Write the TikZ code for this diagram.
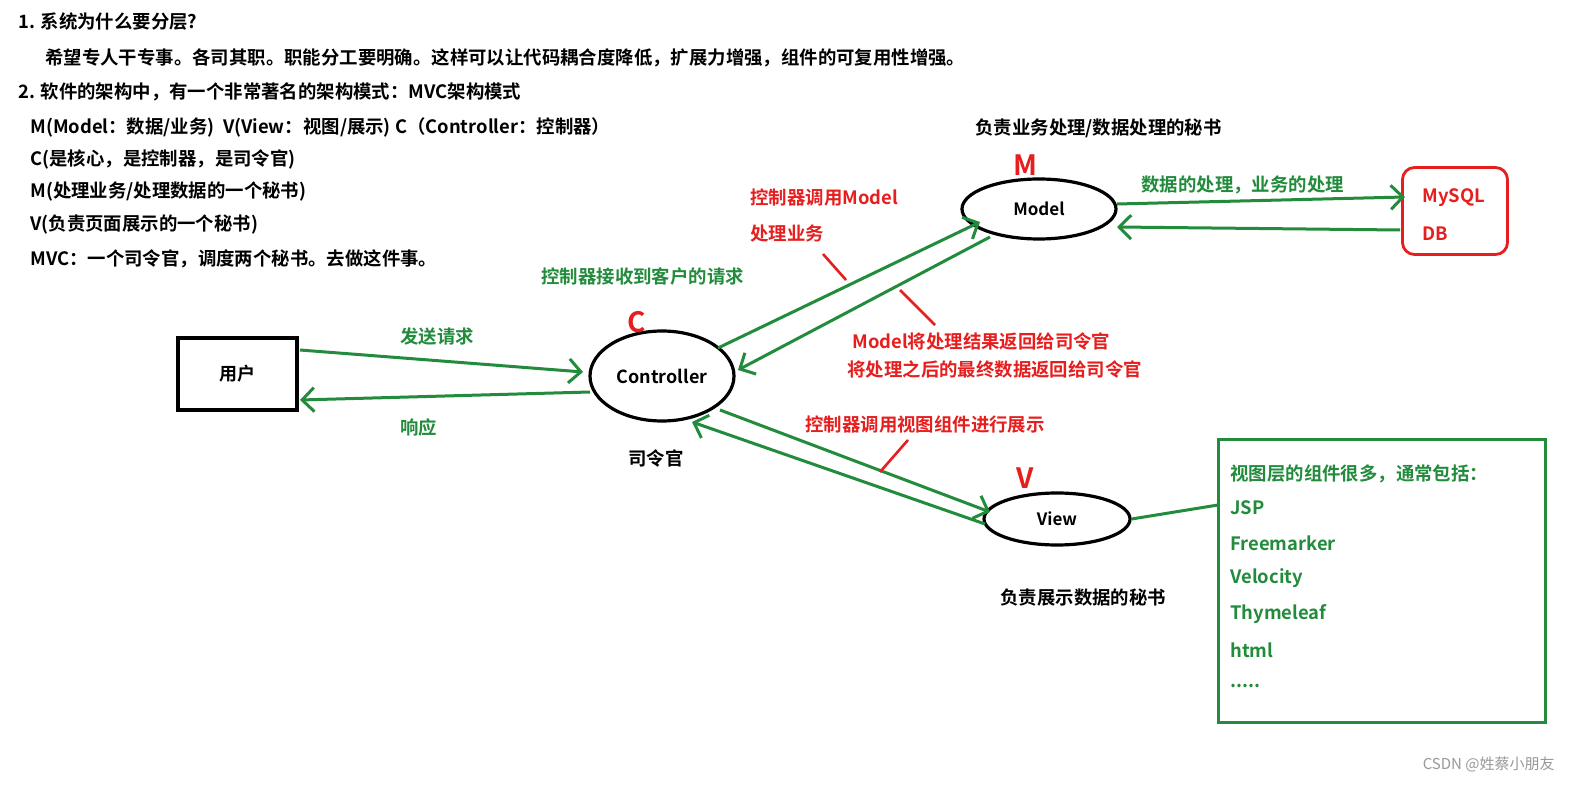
\documentclass[tikz,border=0pt]{standalone}
\usepackage{fontspec}
\setmainfont{Noto Sans CJK SC}[BoldFont={Noto Sans CJK SC Bold}]
\usetikzlibrary{arrows.meta,shapes.geometric}
\definecolor{gr}{RGB}{34,139,60}
\definecolor{rd}{RGB}{230,30,30}
\tikzset{
 txt/.style={font=\fontsize{9.2}{10}\selectfont\bfseries,anchor=west,inner sep=0},
 gtxt/.style={txt,text=gr},
 rtxt/.style={txt,text=rd},
 big/.style={font=\fontsize{14}{15}\selectfont\bfseries,text=rd,inner sep=0},
 arr/.style={draw=gr,line width=1.5pt,-{Straight Barb[length=6pt,width=12pt,line width=1.5pt]}},
 ell/.style={draw,line width=1.6pt,ellipse,inner sep=0},
 slash/.style={draw=rd,line width=1.3pt}
}
\begin{document}
\begin{tikzpicture}[x=0.5pt,y=-0.5pt]
\useasboundingbox[fill=white] (0,0) rectangle (1596,796);
\node[txt] (t1) at (18,22) {1. 系统为什么要分层?};
\node[txt] (t2) at (45,58) {希望专人干专事。各司其职。职能分工要明确。这样可以让代码耦合度降低，扩展力增强，组件的可复用性增强。};
\node[txt] (t3) at (18,92) {2. 软件的架构中，有一个非常著名的架构模式：MVC架构模式};
\node[txt] (t4) at (30,127) {M(Model：数据/业务)\ \ V(View：视图/展示)\ C（Controller：控制器）};
\node[txt] (t5) at (30,159) {C(是核心，是控制器，是司令官)};
\node[txt] (t6) at (30,192) {M(处理业务/处理数据的一个秘书)};
\node[txt] (t7) at (30,225) {V(负责页面展示的一个秘书)};
\node[txt] (t8) at (30,259) {MVC：一个司令官，调度两个秘书。去做这件事。};

\node[draw,line width=1.6pt,minimum width=59.5pt,minimum height=36pt,font=\fontsize{9}{10}\selectfont\bfseries] (user) at (237.5,374) {用户};
\node[ell,minimum width=72pt,minimum height=45pt,font=\fontsize{9}{10}\selectfont\bfseries] (ctrl) at (662,376) {Controller};
\node[ell,minimum width=77pt,minimum height=30pt,font=\fontsize{8.5}{10}\selectfont\bfseries] (model) at (1039,209) {Model};
\node[ell,minimum width=73pt,minimum height=26pt,font=\fontsize{8.5}{10}\selectfont\bfseries] (view) at (1057,519) {View};
\node[draw=rd,line width=1.4pt,rounded corners=6pt,minimum width=52.5pt,minimum height=43.5pt] (db) at (1455,211) {};
\node[rtxt] (dbt) at (1422,198) {MySQL};
\node[rtxt] (dbt2) at (1422,234) {DB};
\node[draw=gr,line width=1.5pt,minimum width=163.5pt,minimum height=141pt] (vb) at (1381.5,581) {};
\node[gtxt] (vl1) at (1230,474) {视图层的组件很多，通常包括：};
\node[gtxt] (vl2) at (1230,508) {JSP};
\node[gtxt] (vl3) at (1230,543) {Freemarker};
\node[gtxt] (vl4) at (1230,578) {Velocity};
\node[gtxt] (vl5) at (1230,614) {Thymeleaf};
\node[gtxt] (vl6) at (1230,650) {html};
\node[gtxt] (vl7) at (1230,686) {.....};

\node[big] (cL) at (637,322) {C};
\node[big] (mL) at (1025,165) {M};
\node[big] (vL) at (1025,478) {V};
\node[txt] (s1) at (628,458) {司令官};
\node[txt] (s2) at (975,128) {负责业务处理/数据处理的秘书};
\node[txt] (s3) at (1000,598) {负责展示数据的秘书};

\coordinate (a1) at (300,350); \coordinate (a2) at (583,372);
\coordinate (b1) at (590,392); \coordinate (b2) at (300,400);
\coordinate (c1) at (718,348); \coordinate (c2) at (980,222);
\coordinate (d1) at (990,237); \coordinate (d2) at (738,370);
\coordinate (e1) at (1117,204); \coordinate (e2) at (1405,197);
\coordinate (f1) at (1400,230); \coordinate (f2) at (1117,227);
\coordinate (g1) at (720,410); \coordinate (g2) at (990,512);
\coordinate (h1) at (985,524); \coordinate (h2) at (692,422);
\draw[arr] (a1) -- (a2);
\draw[arr] (b1) -- (b2);
\draw[arr] (c1) -- (c2);
\draw[arr] (d1) -- (d2);
\draw[arr] (e1) -- (e2);
\draw[arr] (f1) -- (f2);
\draw[arr] (g1) -- (g2);
\draw[arr] (h1) -- (h2);
\coordinate (vbj) at (1218,505);
\draw[draw=gr,line width=1.5pt] (view.east) -- (vbj);

\node[gtxt] (l1) at (400,337) {发送请求};
\node[gtxt] (l2) at (400,427) {响应};
\node[gtxt] (l3) at (541,276) {控制器接收到客户的请求};
\node[rtxt] (l4) at (750,198) {控制器调用Model};
\node[rtxt] (l5) at (750,234) {处理业务};
\node[rtxt] (l6) at (852,341) {Model将处理结果返回给司令官};
\node[rtxt] (l7) at (847,369) {将处理之后的最终数据返回给司令官};
\node[rtxt] (l8) at (805,425) {控制器调用视图组件进行展示};
\node[gtxt] (l9) at (1141,185) {数据的处理，业务的处理};
\draw[slash] (823,254) -- (846,280);
\draw[slash] (900,290) -- (935,325);
\draw[slash] (880,472) -- (908,440);
\node[anchor=east,text=gray!80,font=\fontsize{7.5}{8}\selectfont,inner sep=0] (wm) at (1555,764) {CSDN @姓蔡小朋友};
\end{tikzpicture}
\end{document}
